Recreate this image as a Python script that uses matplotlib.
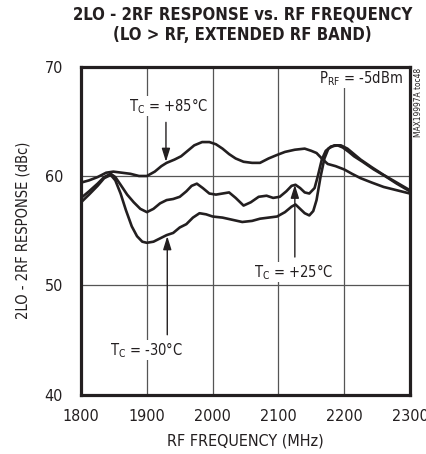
#!/usr/bin/env python3
"""2LO - 2RF response vs RF frequency (LO > RF, extended RF band)."""

import matplotlib

matplotlib.use("Agg")
import matplotlib.pyplot as plt

INK = "#231f20"

# values
f_85 = [1800, 1812, 1825, 1838, 1849, 1862, 1875, 1888, 1900, 1912, 1922, 1930,
        1942, 1952, 1962, 1972, 1984, 1995, 2005, 2015, 2025, 2035, 2047, 2060,
        2072, 2085, 2097, 2110, 2125, 2140, 2150, 2158, 2166, 2175, 2187, 2200,
        2212, 2225, 2242, 2260, 2280, 2300]
r_85 = [59.4, 59.6, 59.9, 60.3, 60.4, 60.3, 60.2, 60.0, 60.0, 60.4, 60.9, 61.2,
        61.5, 61.8, 62.3, 62.8, 63.1, 63.1, 62.9, 62.5, 62.0, 61.6, 61.3, 61.2,
        61.2, 61.6, 61.9, 62.2, 62.4, 62.5, 62.3, 62.1, 61.6, 61.1, 60.9, 60.6,
        60.2, 59.8, 59.4, 59.0, 58.7, 58.4]

f_25 = [1800, 1812, 1825, 1835, 1845, 1852, 1860, 1870, 1880, 1890, 1900, 1910,
        1920, 1930, 1940, 1950, 1960, 1968, 1976, 1985, 1995, 2005, 2015, 2025,
        2035, 2047, 2058, 2070, 2082, 2092, 2102, 2112, 2120, 2126, 2133, 2140,
        2147, 2155, 2160, 2166, 2172, 2180, 2190, 2198, 2207, 2215, 2228, 2245,
        2262, 2280, 2300]
r_25 = [58.0, 58.6, 59.3, 59.9, 60.2, 59.9, 59.2, 58.3, 57.6, 57.0, 56.7, 57.0,
        57.5, 57.8, 57.9, 58.1, 58.6, 59.1, 59.3, 58.9, 58.4, 58.3, 58.4, 58.5,
        58.0, 57.3, 57.6, 58.1, 58.2, 58.0, 58.1, 58.6, 59.1, 59.2, 58.9, 58.5,
        58.4, 58.9, 60.0, 61.5, 62.3, 62.7, 62.8, 62.6, 62.2, 61.8, 61.3, 60.6,
        60.0, 59.3, 58.6]

f_m30 = [1800, 1812, 1825, 1835, 1845, 1852, 1860, 1868, 1877, 1885, 1893, 1900,
         1910, 1920, 1930, 1940, 1950, 1960, 1970, 1980, 1990, 2000, 2015, 2030,
         2045, 2060, 2072, 2085, 2098, 2110, 2120, 2126, 2133, 2140, 2147, 2153,
         2158, 2164, 2170, 2176, 2185, 2195, 2205, 2215, 2225, 2242, 2260, 2280,
         2300]
r_m30 = [57.6, 58.3, 59.1, 59.8, 60.1, 59.6, 58.4, 56.9, 55.4, 54.5, 54.0, 53.9,
         54.0, 54.3, 54.6, 54.8, 55.3, 55.6, 56.2, 56.6, 56.5, 56.3, 56.2, 56.0,
         55.8, 55.9, 56.1, 56.2, 56.3, 56.7, 57.2, 57.4, 57.0, 56.6, 56.4, 56.8,
         57.8, 59.9, 61.6, 62.5, 62.8, 62.8, 62.5, 62.0, 61.5, 60.8, 60.1, 59.4,
         58.7]

x_ticks = [1800, 1900, 2000, 2100, 2200, 2300]
y_ticks = [40, 50, 60, 70]

# (label, text xy, arrow tail, arrow tip) in data units
notes = [
    ("T$_\\mathregular{C}$ = +85°C", (1933, 66.4), (1929, 64.9), (1929, 61.3)),
    ("T$_\\mathregular{C}$ = +25°C", (2123, 51.2), (2125, 52.6), (2125, 59.2)),
    ("T$_\\mathregular{C}$ = -30°C", (1900, 44.1), (1931, 45.5), (1931, 54.5)),
]


def main():
    plt.rcParams["font.family"] = ["DejaVu Sans"]
    plt.rcParams["font.stretch"] = "condensed"
    plt.rcParams["mathtext.fontset"] = "dejavusans"

    fig = plt.figure(figsize=(4.27, 4.54), dpi=100)
    ax = fig.add_axes([0.19, 0.130, 0.77, 0.7235])

    for f, r in [(f_85, r_85), (f_25, r_25), (f_m30, r_m30)]:
        ax.plot(f, r, color=INK, lw=1.9, solid_capstyle="round", zorder=3)

    ax.set_xlim(1800, 2300)
    ax.set_ylim(40, 70)
    ax.set_xticks(x_ticks)
    ax.set_yticks(y_ticks)
    ax.tick_params(length=0, labelsize=11.5, colors=INK)
    ax.tick_params(axis="x", pad=10)
    ax.tick_params(axis="y", pad=13)
    ax.grid(True, color="#555555", lw=0.9)
    for s in ax.spines.values():
        s.set_linewidth(2.3)
        s.set_color(INK)
        s.set_zorder(6)

    ax.set_xlabel("RF FREQUENCY (MHz)", fontsize=11.5, color=INK, labelpad=7)
    ax.set_ylabel("2LO - 2RF RESPONSE (dBc)", fontsize=10.5, color=INK,
                  labelpad=10)

    for txt, xy, tail, tip in notes:
        ax.text(xy[0], xy[1], txt, fontsize=10.5, ha="center", va="center",
                color=INK, zorder=5,
                bbox=dict(fc="white", ec="none", pad=0.15))
        ax.annotate("", xy=tip, xytext=tail, zorder=4,
                    arrowprops=dict(arrowstyle="-|>,head_length=0.8,head_width=0.25",
                                    color=INK, lw=1.0, shrinkA=0, shrinkB=0))

    ax.text(2290, 68.9, "P$_\\mathregular{RF}$ = -5dBm", fontsize=10.5, ha="right",
            va="center", color=INK, zorder=5,
            bbox=dict(fc="white", ec="none", pad=0.15))

    fig.text(0.979, 0.775, "MAX19997A toc48", rotation=90, fontsize=6,
             ha="center", va="center", color=INK)

    fig.text(0.568, 0.967, "2LO - 2RF RESPONSE vs. RF FREQUENCY", fontsize=12,
             fontweight="bold", ha="center", va="center", color=INK)
    fig.text(0.568, 0.923, "(LO > RF, EXTENDED RF BAND)", fontsize=12,
             fontweight="bold", ha="center", va="center", color=INK)

    fig.savefig("out.png", dpi=100)


if __name__ == "__main__":
    main()
